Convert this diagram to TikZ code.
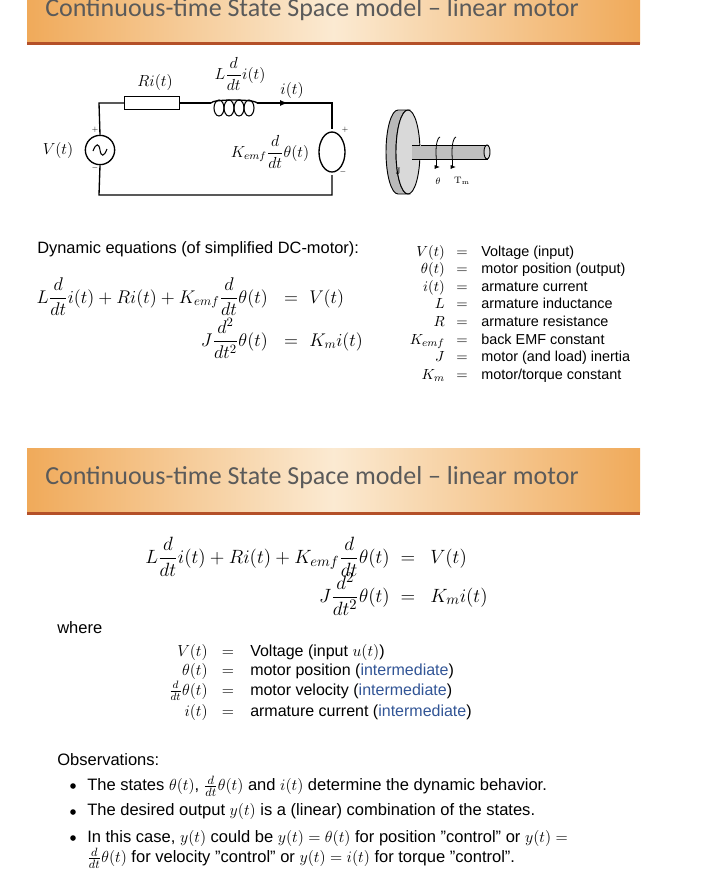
\documentclass[tikz,border=0pt]{standalone}
\usepackage{amsmath}
\usepackage{fontspec}
\setsansfont{Liberation Sans}
\newfontfamily\hdr{Carlito}
\usetikzlibrary{arrows.meta,shapes.geometric}
\definecolor{hor}{RGB}{240,170,90}
\definecolor{hcr}{RGB}{251,234,210}
\definecolor{hbr}{RGB}{180,80,40}
\definecolor{hblue}{RGB}{50,85,150}
\definecolor{htx}{RGB}{90,90,90}
\tikzset{
 txt/.style={font=\sffamily\fontsize{12.4}{14}\selectfont, inner sep=0pt},
 mth/.style={font=\fontsize{11.5}{13}\selectfont, inner sep=0pt},
 eqs/.style={font=\fontsize{14.6}{17}\selectfont, inner sep=0pt, scale=0.955, transform shape},
 eqt/.style={font=\fontsize{15}{17}\selectfont, inner sep=0pt},
 la/.style={font=\fontsize{10.8}{13}\selectfont, inner sep=0pt},
 lb/.style={font=\fontsize{12}{14}\selectfont, inner sep=0pt},
 wire/.style={line width=1pt},
 htitle/.style={font=\hdr\fontsize{19.5}{22}\selectfont, text=htx, anchor=west, inner sep=0pt}
}
\begin{document}
\begin{tikzpicture}[x=0.75pt,y=-0.75pt]
\useasboundingbox (0,0) rectangle (703,871);
\fill[white] (0,0) rectangle (703,871);
% headers
\shade[left color=hor, right color=hor, middle color=hcr] (27,0) rectangle (640,43);
\fill[hbr] (27,42) rectangle (640,45);
\node[htitle] (t1) at (45,10) {Continuous-time State Space model – linear motor};
\shade[left color=hor, right color=hor, middle color=hcr] (27,448) rectangle (640,512);
\fill[hbr] (27,512) rectangle (640,515);
\node[htitle] (t2) at (45,478) {Continuous-time State Space model – linear motor};
% circuit
\node[draw, wire, circle, minimum size=22pt, inner sep=0pt] (src) at (100,150) {};
\draw[line width=0.8pt] (93,151) .. controls (96,143) and (99,143) .. (100,150) .. controls (101,157) and (104,157) .. (107,149);
\node[draw, wire, minimum width=41pt, minimum height=10pt, inner sep=0pt] (res) at (152,103) {};
\coordinate (mot) at (332,152);
\fill[white, draw, line width=0.7pt] (328,129) rectangle (336,134);
\fill[white, draw, line width=0.7pt] (328,170) rectangle (336,175);
\draw[wire, fill=white] (mot) ellipse[x radius=13, y radius=20];
\coordinate (tl) at (99,103); \coordinate (tr) at (332,103);
\coordinate (bl) at (99,195); \coordinate (br) at (332,195);
\draw[wire] (src.north) -- (tl) -- (res.west);
\draw[wire] (res.east) -- (211,103);
\foreach \k in {0,...,3} \draw[line width=0.8pt] (219+10*\k,108) ellipse[x radius=5, y radius=8];
\draw[wire] (211,103) .. controls (212,99) and (255,99) .. (257,103);
\draw[wire] (257,103) -- (tr) -- (332,129);
\draw[-{Latex[length=6pt]}, line width=1pt] (270,103) -- (288,103);
\draw[wire] (332,175) -- (br) -- (bl) -- (src.south);
\node[mth] (pl1) at (95,130) {\tiny$+$};
\node[mth] (mi1) at (95,168) {\tiny$-$};
\node[mth] (pl2) at (345,130) {\tiny$+$};
\node[mth] (mi2) at (343,172) {\tiny$-$};
\node[mth] (lv) at (58,150) {$V(t)$};
\node[mth] (lr) at (155,82) {$Ri(t)$};
\node[mth] (ll) at (240,74) {$L\dfrac{d}{dt}i(t)$};
\node[mth] (li) at (292,90) {$i(t)$};
\node[mth] (lk) at (270,152) {$K_{emf}\dfrac{d}{dt}\theta(t)$};
% flywheel
\fill[gray!55, draw=black, line width=0.7pt] (398,110) -- (408,110) arc[start angle=270,end angle=90,x radius=12,y radius=42] -- (398,194) arc[start angle=90,end angle=270,x radius=12,y radius=42];
\draw[fill=gray!50, line width=0.7pt] (412,145) rectangle (487,159);
\draw[fill=gray!30, line width=0.7pt] (487,152) ellipse[x radius=3, y radius=7];
\draw[fill=gray!30, line width=0.7pt] (408,152) ellipse[x radius=12, y radius=42];
\fill[gray!50] (412,145.4) rectangle (420.5,158.6);
\draw[line width=0.7pt] (412,145) -- (420,145) (412,159) -- (420,159);
\foreach \xx in {437,453}{
 \draw[line width=0.6pt, -{Latex[length=4pt]}] (\xx+3,137) arc[start angle=270,end angle=90,x radius=4,y radius=15];
}
\node[font=\fontsize{7}{8}\selectfont\rmfamily, inner sep=0pt] (lj) at (398,171) {J};
\node[font=\fontsize{7}{8}\selectfont\rmfamily, inner sep=0pt] (lth) at (438,181) {$\theta$};
\node[font=\fontsize{7}{8}\selectfont\rmfamily, inner sep=0pt] (ltm) at (462,181) {T$_{\mathrm{m}}$};
% dynamic equations section
\node[txt, anchor=west, font=\sffamily\fontsize{12.3}{14}\selectfont] (dyn) at (37,249) {Dynamic equations (of simplified DC-motor):};
\foreach \lab/\tx [count=\i] in {V(t)/{Voltage (input)}, \theta(t)/{motor position (output)}, i(t)/{armature current}, L/{armature inductance}, R/{armature resistance}, K_{emf}/{back EMF constant}, J/{motor (and load) inertia}, K_m/{motor/torque constant}}{
 \node[la, anchor=base east] (a\i) at (445,{252+17.6*(\i-1)+4}) {$\lab$};
 \node[la, anchor=base] (ae\i) at (462,{252+17.6*(\i-1)+4}) {$=$};
 \node[la, anchor=base west, font=\sffamily\fontsize{10.8}{13}\selectfont] (at\i) at (481,{252+17.6*(\i-1)+4}) {\tx};
}
\node[eqs, anchor=base east] (e1l) at (268,303) {$L\dfrac{d}{dt}i(t)+Ri(t)+K_{emf}\dfrac{d}{dt}\theta(t)$};
\node[eqs, anchor=base] (e1e) at (291,303) {$=$};
\node[eqs, anchor=base west] (e1r) at (309,303) {$V(t)$};
\node[eqs, anchor=base east] (e2l) at (268,346) {$J\dfrac{d^2}{dt^2}\theta(t)$};
\node[eqs, anchor=base] (e2e) at (291,346) {$=$};
\node[eqs, anchor=base west] (e2r) at (309,346) {$K_mi(t)$};
% second section
\node[eqt, anchor=base east] (f1l) at (390,563) {$L\dfrac{d}{dt}i(t)+Ri(t)+K_{emf}\dfrac{d}{dt}\theta(t)$};
\node[eqt, anchor=base] (f1e) at (408,563) {$=$};
\node[eqt, anchor=base west] (f1r) at (430,563) {$V(t)$};
\node[eqt, anchor=base east] (f2l) at (390,602) {$J\dfrac{d^2}{dt^2}\theta(t)$};
\node[eqt, anchor=base] (f2e) at (408,602) {$=$};
\node[eqt, anchor=base west] (f2r) at (430,602) {$K_mi(t)$};
\node[txt, anchor=west] (wh) at (57,628) {where};
\foreach \lab/\tx/\yy [count=\i] in {V(t)/{Voltage (input $u(t)$)}/652, \theta(t)/{motor position (\textcolor{hblue}{intermediate})}/671, \frac{d}{dt}\theta(t)/{motor velocity (\textcolor{hblue}{intermediate})}/691, i(t)/{armature current (\textcolor{hblue}{intermediate})}/712}{
 \node[lb, anchor=base east] (b\i) at (208,\yy+4) {$\lab$};
 \node[lb, anchor=base] (be\i) at (228,\yy+4) {$=$};
 \node[lb, anchor=base west, font=\sffamily\fontsize{12}{14}\selectfont] (bt\i) at (250,\yy+4) {\tx};
}
\node[txt, anchor=west] (obs) at (57,760) {Observations:};
\foreach \yy in {786,812,838} \fill (73,\yy) circle (2.8);
\node[txt, anchor=west] (o1) at (87,786) {The states $\theta(t)$, $\frac{d}{dt}\theta(t)$ and $i(t)$ determine the dynamic behavior.};
\node[txt, anchor=west] (o2) at (87,811) {The desired output $y(t)$ is a (linear) combination of the states.};
\node[txt, anchor=west] (o3) at (87,838) {In this case, $y(t)$ could be $y(t)=\theta(t)$ for position "control" or $y(t)=$};
\node[txt, anchor=west] (o4) at (87,858) {$\frac{d}{dt}\theta(t)$ for velocity "control" or $y(t)=i(t)$ for torque "control".};
\end{tikzpicture}
\end{document}
